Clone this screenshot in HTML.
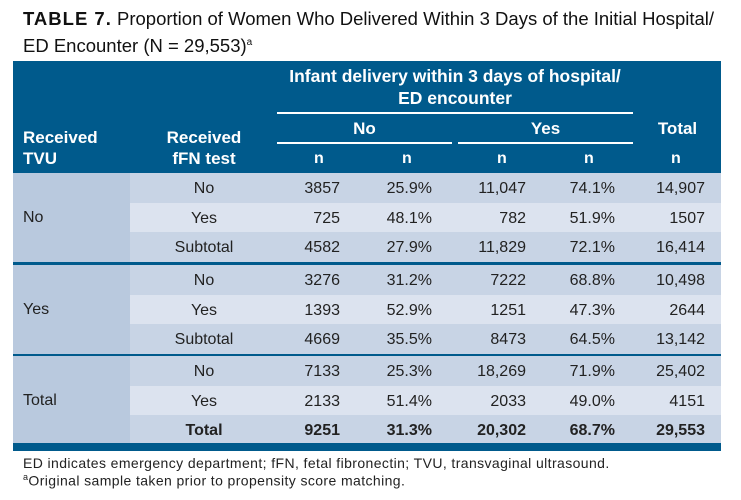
<!DOCTYPE html>
<html><head><meta charset="utf-8"><style>
body{margin:0;width:741px;height:500px;background:#fff;font-family:"Liberation Sans",sans-serif;position:relative;overflow:hidden}
.a{position:absolute;white-space:nowrap}
.title{left:23px;top:7px;font-size:18.5px;color:#111;line-height:24px}
.hdr{left:13px;top:61px;width:708px;height:112px;background:#005a8c}
.ht{color:#fff;font-weight:bold;font-size:16px}
.hl{height:2px;background:#fff}
.row{position:absolute;left:13px;width:708px;height:30px;font-size:16px;color:#222}
.row span{position:absolute;top:7px}
.dark{background:#c8d4e5}.light{background:#dce3ef}
.c1{position:absolute;left:13px;width:117px;background:#b9c9de}
.sep{position:absolute;left:13px;width:708px;height:3px;background:#005a8c}
.b{font-weight:bold}
.fn{left:23px;font-size:14px;letter-spacing:0.4px;color:#222}
</style></head><body>
<div class="a title"><b style="letter-spacing:1px">TABLE 7.</b> Proportion of Women Who Delivered Within 3 Days of the Initial Hospital/<br>ED Encounter (N = 29,553)<sup style="font-size:10px">a</sup></div>
<div class="a hdr"></div>
<div class="a ht" style="left:23px;top:127px;line-height:21px;font-size:17px">Received<br>TVU</div>
<div class="a ht" style="left:130px;width:148px;text-align:center;top:127px;line-height:21px;font-size:17px">Received<br>fFN test</div>
<div class="a ht" style="left:277px;width:356px;text-align:center;top:65px;line-height:22px;font-size:17.5px">Infant delivery within 3 days of hospital/<br>ED encounter</div>
<div class="a hl" style="left:277px;top:112px;width:356px"></div>
<div class="a ht" style="left:277px;width:175px;text-align:center;top:119px;font-size:17px">No</div>
<div class="a ht" style="left:458px;width:175px;text-align:center;top:119px;font-size:17px">Yes</div>
<div class="a ht" style="left:640px;width:75px;text-align:center;top:119px;font-size:17px">Total</div>
<div class="a hl" style="left:277px;top:142px;width:175px"></div>
<div class="a hl" style="left:458px;top:142px;width:175px"></div>
<div class="a ht" style="left:314px;top:150px">n</div>
<div class="a ht" style="left:402px;top:150px">n</div>
<div class="a ht" style="left:497px;top:150px">n</div>
<div class="a ht" style="left:584px;top:150px">n</div>
<div class="a ht" style="left:671px;top:150px">n</div>
<div id="body"></div>
<div class="a fn" style="top:455px">ED indicates emergency department; fFN, fetal fibronectin; TVU, transvaginal ultrasound.</div>
<div class="a fn" style="top:472px"><sup style="font-size:9px">a</sup>Original sample taken prior to propensity score matching.</div>
<script>
const groups=["No","Yes","Total"];
const subs=["No","Yes","Subtotal","No","Yes","Subtotal","No","Yes","Total"];
const noN=["3857","725","4582","3276","1393","4669","7133","2133","9251"];
const noP=["25.9%","48.1%","27.9%","31.2%","52.9%","35.5%","25.3%","51.4%","31.3%"];
const yesN=["11,047","782","11,829","7222","1251","8473","18,269","2033","20,302"];
const yesP=["74.1%","51.9%","72.1%","68.8%","47.3%","64.5%","71.9%","49.0%","68.7%"];
const tot=["14,907","1507","16,414","10,498","2644","13,142","25,402","4151","29,553"];
const groupTops=[173,265,356];
const body=document.getElementById('body');
const rights=[340-13,432-13,526-13,615-13,705-13];
for(let g=0;g<3;g++){
  const gt=groupTops[g];
  for(let k=0;k<3;k++){
    const i=g*3+k;
    const r=document.createElement('div');
    r.className='row '+(k==1?'light':'dark')+(g==2&&k==2?' b':'');
    r.style.top=(gt+k*29.5)+'px';r.style.height='30px';
    
    
    const s=document.createElement('span');
    s.style.left='117px';s.style.width='148px';s.style.textAlign='center';s.textContent=subs[i];
    
    
    r.appendChild(s);
    [noN[i],noP[i],yesN[i],yesP[i],tot[i]].forEach((v,j)=>{
      const c=document.createElement('span');
      c.style.right=(708-rights[j])+'px';c.textContent=v;
      
      
      r.appendChild(c);
    });
    body.appendChild(r);
  }
  const c1=document.createElement('div');
  c1.className='c1';c1.style.top=gt+'px';c1.style.height='89px';
  
  
  const l=document.createElement('span');
  l.className='a';l.style.left='10px';l.style.top='36px';l.style.fontSize='16px';l.style.color='#222';
  l.textContent=groups[g];
  c1.appendChild(l);
  body.appendChild(c1);
  const sp=document.createElement('div');
  sp.className='sep';sp.style.top=(gt+89)+'px';
  if(g==2){sp.style.height='8px';sp.style.top='443px';}
  
  
  body.appendChild(sp);
}
</script>
</body></html>
